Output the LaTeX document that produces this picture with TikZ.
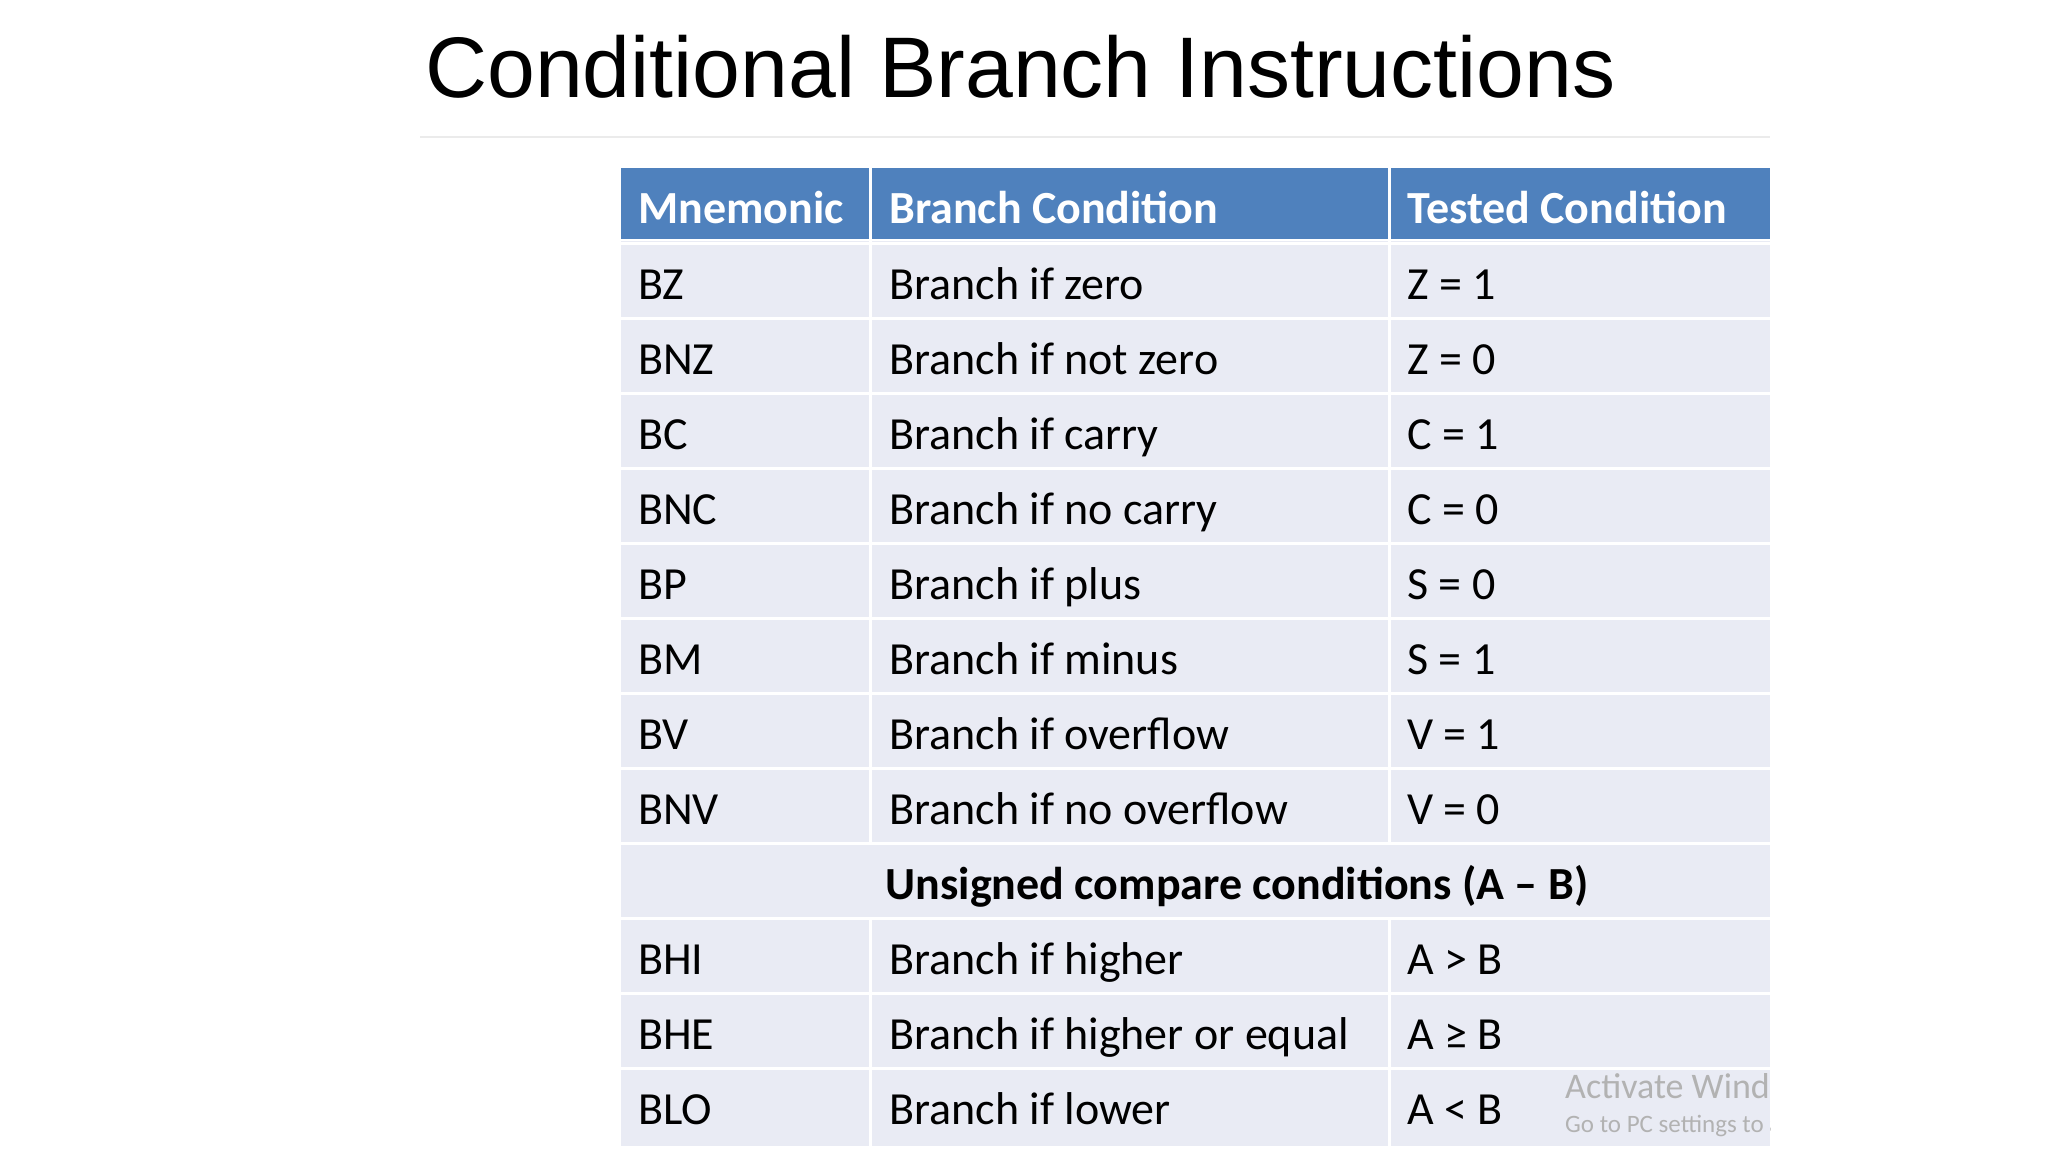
\documentclass[tikz,border=0pt]{standalone}
\usepackage{fontspec}
\setmainfont{Carlito}
\newfontfamily\titlefont{Liberation Sans}
\begin{document}
\begin{tikzpicture}[x=1pt,y=-1pt,
  cell/.style={anchor=base west,inner sep=0pt,font=\fontsize{46}{48}\selectfont},
  hcell/.style={cell,font=\fontsize{46}{48}\selectfont\bfseries,text=white}]
\useasboundingbox (0,0) rectangle (2048,1152);
\fill[white] (0,0) rectangle (2048,1152);
\node[anchor=base west,inner sep=0pt,font=\titlefont\fontsize{86}{88}\selectfont] (title) at (425,97) {Conditional Branch Instructions};
\draw[line width=2pt,black!8] (420,137) -- (1770,137);
\fill[fill={rgb,255:red,79;green,129;blue,189}] (621,168) rectangle (1770,239);
\fill[fill={rgb,255:red,233;green,235;blue,244}] (621,241) rectangle (1770,1146);
\foreach \y in {243,318,393,468,543,618,693,768,843,918,993,1068}
  \draw[white,line width=3pt] (621,\y) -- (1770,\y);
\foreach \x in {870,1389}{
  \draw[white,line width=3pt] (\x,168) -- (\x,843);
  \draw[white,line width=3pt] (\x,918) -- (\x,1146);}
\node[hcell] (h1) at (638,223) {Mnemonic};
\node[hcell] (h2) at (889,223) {Branch Condition};
\node[hcell] (h3) at (1407,223) {Tested Condition};
\foreach \i/\m/\b/\t in {0/BZ/Branch if zero/Z = 1,1/BNZ/Branch if not zero/Z = 0,2/BC/Branch if carry/C = 1,3/BNC/Branch if no carry/C = 0,4/BP/Branch if plus/S = 0,5/BM/Branch if minus/S = 1,6/BV/Branch if overflow/V = 1,7/BNV/Branch if no overflow/V = 0}{
  \node[cell] (m\i) at (638,{299+75*\i}) {\m};
  \node[cell] (b\i) at (889,{299+75*\i}) {\b};
  \node[cell] (t\i) at (1407,{299+75*\i}) {\t};}
\node[cell,anchor=base,font=\fontsize{46}{48}\selectfont\bfseries] (u) at (1237,899) {Unsigned compare conditions (A – B)};
\foreach \i/\m/\b/\t in {0/BHI/Branch if higher/A > B,1/BHE/Branch if higher or equal/A ≥ B,2/BLO/Branch if lower/A < B}{
  \node[cell] (mm\i) at (638,{974+75*\i}) {\m};
  \node[cell] (bb\i) at (889,{974+75*\i}) {\b};
  \node[cell] (tt\i) at (1407,{974+75*\i}) {\t};}
\begin{scope}
\clip (621,1068) rectangle (1770,1152);
\node[anchor=base west,inner sep=0pt,text=black!30,font=\fontsize{36}{38}\selectfont] (aw) at (1565,1098) {Activate Windows};
\node[anchor=base west,inner sep=0pt,text=black!30,font=\fontsize{25}{27}\selectfont] (gp) at (1565,1132) {Go to PC settings to activate Windows.};
\end{scope}
\end{tikzpicture}
\end{document}
